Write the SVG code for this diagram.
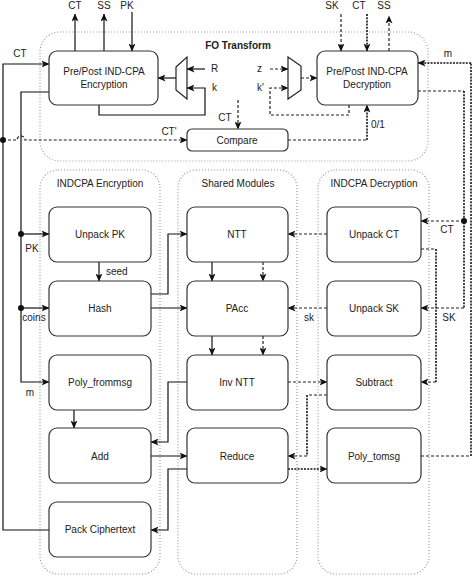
<svg xmlns="http://www.w3.org/2000/svg" width="474" height="576" viewBox="0 0 474 576">
<style>
text{font-family:"Liberation Sans",Arial,sans-serif;font-size:10px;fill:#222}
.c{text-anchor:middle}
.box{fill:#fff;stroke:#333;stroke-width:1.2}
.grp{fill:none;stroke:#999;stroke-width:1.2;stroke-dasharray:1 2}
.s{fill:none;stroke:#111;stroke-width:1.2}
.d{fill:none;stroke:#222;stroke-width:1.2;stroke-dasharray:3 2}
.dd{fill:none;stroke:#111;stroke-width:1.6;stroke-dasharray:2 1.2}
.a{marker-end:url(#ah)}
</style>
<defs>
<marker id="ah" viewBox="0 0 8 7" refX="7.5" refY="3.5" markerWidth="8" markerHeight="7" markerUnits="userSpaceOnUse" orient="auto">
<path d="M0,0 L8,3.5 L0,7 L2,3.5 z" fill="#111"/>
</marker>
</defs>

<g id="containers">
<rect class="grp" x="40" y="32" width="388" height="129" rx="20"/>
<rect class="grp" x="40" y="170" width="120" height="404" rx="18"/>
<rect class="grp" x="178" y="170" width="119" height="404" rx="18"/>
<rect class="grp" x="318" y="170" width="111" height="404" rx="18"/>
<text class="c" x="238" y="49" font-weight="bold">FO Transform</text>
<text class="c" x="100" y="187">INDCPA Encryption</text>
<text class="c" x="238" y="187">Shared Modules</text>
<text class="c" x="374" y="187">INDCPA Decryption</text>
</g>

<g id="connectors">
<path class="s a" d="M75,51 V14"/>
<path class="s a" d="M104,51 V14"/>
<path class="s a" d="M132,12 V51"/>
<path class="d a" d="M341,14 V51"/>
<path class="dd a" d="M367,14 V51"/>
<path class="d a" d="M389,51 V16"/>
<path class="s a" d="M205,69 H187"/>
<path class="s a" d="M99,105 V115 H205 V88 H187"/>
<path class="s a" d="M176,78 H158"/>
<path class="d a" d="M270,69 H288"/>
<path class="d a" d="M349,105 V115 H270 V88 H288"/>
<path class="d a" d="M301,78 H317"/>
<path class="d a" d="M238,100 V129"/>
<path class="d" d="M288,140 H367"/>
<path class="dd a" d="M367,140 V105"/>
<path class="d a" d="M3,140 H17 A4,4 0 0 1 25,140 H187"/>
<path class="s a" d="M49,530 H3 V64 H49"/>
<path class="s a" d="M49,92 H21 V382 H49"/>
<path class="s a" d="M21,234 H49"/>
<path class="s a" d="M21,308 H49"/>
<circle cx="3" cy="140" r="3" fill="#111"/>
<circle cx="21" cy="234" r="3" fill="#111"/>
<circle cx="21" cy="308" r="3" fill="#111"/>
<path class="s a" d="M99,262 V281"/>
<path class="s a" d="M151,294 H168 V234 H187"/>
<path class="s a" d="M151,308 H187"/>
<path class="s a" d="M74,410 V428"/>
<path class="s a" d="M187,382 H168 V442 H151"/>
<path class="s a" d="M151,456 H187"/>
<path class="s a" d="M187,469 H168 V530 H151"/>
<path class="s a" d="M212,262 V281"/>
<path class="s a" d="M212,336 V355"/>
<path class="d a" d="M263,262 V281"/>
<path class="d a" d="M263,336 V355"/>
<path class="d a" d="M327,234 H288"/>
<path class="d a" d="M327,308 H288"/>
<path class="d a" d="M288,382 H327"/>
<path class="d" d="M327,395 H307"/>
<path class="dd" d="M307,395 V456"/>
<path class="d a" d="M307,456 H288"/>
<path class="dd a" d="M288,469 H327"/>
<path class="d" d="M421,249 H436"/>
<path class="dd" d="M436,249 V382"/>
<path class="d a" d="M436,382 H421"/>
<path class="d" d="M418,91 H464"/>
<path class="dd" d="M464,91 V308"/>
<path class="d a" d="M464,308 H421"/>
<path class="d a" d="M464,221 H421"/>
<circle cx="464" cy="221" r="3" fill="#111"/>
<path class="d" d="M421,456 H471"/>
<path class="dd" d="M471,456 V63"/>
<path class="dd a" d="M471,63 H418"/>
</g>

<g id="labels">
<text class="c" x="75" y="9">CT</text>
<text class="c" x="104" y="9">SS</text>
<text class="c" x="127" y="9">PK</text>
<text class="c" x="332" y="9">SK</text>
<text class="c" x="359" y="9">CT</text>
<text class="c" x="384" y="9">SS</text>
<text class="c" x="20" y="57">CT</text>
<text x="211" y="72">R</text>
<text x="212" y="91">k</text>
<text x="257" y="72">z</text>
<text x="257" y="91">k'</text>
<text class="c" x="169" y="135">CT'</text>
<text class="c" x="225" y="121">CT</text>
<text x="371" y="128">0/1</text>
<text class="c" x="448" y="57">m</text>
<text class="c" x="32" y="252">PK</text>
<text class="c" x="34" y="321">coins</text>
<text class="c" x="30" y="396">m</text>
<text x="106" y="275">seed</text>
<text class="c" x="309" y="321">sk</text>
<text class="c" x="447" y="233">CT</text>
<text class="c" x="449" y="321">SK</text>
</g>

<g id="enc-mux"><polygon points="176,67 187,57 187,99 176,90" fill="#fff" stroke="#222" stroke-width="1.2"/></g>
<g id="dec-mux"><polygon points="288,57 301,66 301,90 288,99" fill="#fff" stroke="#222" stroke-width="1.2"/></g>

<g id="pre-post-enc"><rect class="box" x="49" y="51" width="109" height="54" rx="8"/><text class="c" x="104" y="75">Pre/Post IND-CPA</text><text class="c" x="104" y="88">Encryption</text></g>
<g id="pre-post-dec"><rect class="box" x="317" y="51" width="101" height="54" rx="8"/><text class="c" x="367" y="75">Pre/Post IND-CPA</text><text class="c" x="367" y="88">Decryption</text></g>
<g id="compare"><rect class="box" x="187" y="129" width="101" height="22" rx="5"/><text class="c" x="237" y="144">Compare</text></g>

<g id="unpack-pk"><rect class="box" x="49" y="207" width="102" height="55" rx="8"/><text class="c" x="100" y="238">Unpack PK</text></g>
<g id="hash"><rect class="box" x="49" y="281" width="102" height="55" rx="8"/><text class="c" x="100" y="312">Hash</text></g>
<g id="poly-frommsg"><rect class="box" x="49" y="355" width="102" height="55" rx="8"/><text class="c" x="100" y="386">Poly_frommsg</text></g>
<g id="add"><rect class="box" x="49" y="428" width="102" height="55" rx="8"/><text class="c" x="100" y="460">Add</text></g>
<g id="pack-ciphertext"><rect class="box" x="49" y="502" width="102" height="55" rx="8"/><text class="c" x="100" y="533">Pack Ciphertext</text></g>

<g id="ntt"><rect class="box" x="187" y="207" width="101" height="55" rx="8"/><text class="c" x="237" y="238">NTT</text></g>
<g id="pacc"><rect class="box" x="187" y="281" width="101" height="55" rx="8"/><text class="c" x="237" y="312">PAcc</text></g>
<g id="inv-ntt"><rect class="box" x="187" y="355" width="101" height="55" rx="8"/><text class="c" x="237" y="386">Inv NTT</text></g>
<g id="reduce"><rect class="box" x="187" y="428" width="101" height="55" rx="8"/><text class="c" x="237" y="460">Reduce</text></g>

<g id="unpack-ct"><rect class="box" x="327" y="207" width="94" height="55" rx="8"/><text class="c" x="374" y="238">Unpack CT</text></g>
<g id="unpack-sk"><rect class="box" x="327" y="281" width="94" height="55" rx="8"/><text class="c" x="374" y="312">Unpack SK</text></g>
<g id="subtract"><rect class="box" x="327" y="355" width="94" height="55" rx="8"/><text class="c" x="374" y="386">Subtract</text></g>
<g id="poly-tomsg"><rect class="box" x="327" y="428" width="94" height="55" rx="8"/><text class="c" x="374" y="460">Poly_tomsg</text></g>
</svg>
